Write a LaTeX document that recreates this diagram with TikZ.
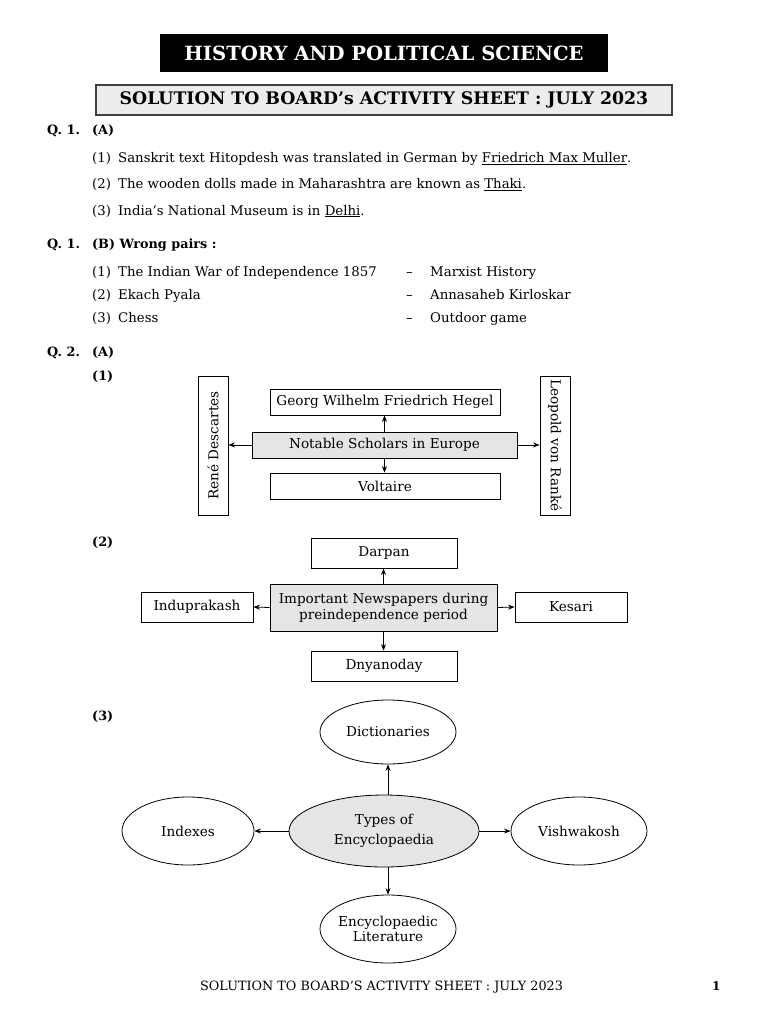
\documentclass[tikz,border=0pt]{standalone}
\usepackage{fontspec}
\setmainfont{DejaVu Serif}
\usetikzlibrary{shapes.geometric,arrows.meta}
\newcommand{\bfnt}{\fontsize{13.3}{15}\selectfont}
\newcommand{\dfnt}{\fontsize{13.6}{15.5}\selectfont}
\tikzset{
  txt/.style={anchor=base west, inner sep=0pt, font=\bfnt},
  qlab/.style={anchor=base west, inner sep=0pt, font=\fontsize{12.8}{15}\selectfont\bfseries},
  box/.style={draw, line width=0.8pt, inner sep=2pt, font=\dfnt, align=center},
  gbox/.style={box, fill=gray!20},
  oval/.style={ellipse, draw, line width=0.8pt, inner sep=0pt, font=\dfnt, align=center},
  arr/.style={line width=0.8pt, -{Stealth[length=6.5pt,width=5pt]}},
}
\begin{document}
\begin{tikzpicture}[x=1pt,y=-1pt]
\useasboundingbox (0,0) rectangle (768,1024);
\fill[white] (0,0) rectangle (768,1024);
% headings
\node[fill=black, minimum width=448, minimum height=38, inner sep=0pt, text=white, font=\fontsize{19.6}{21}\selectfont\bfseries] (h1) at (384,53) {HISTORY AND POLITICAL SCIENCE};
\node[fill=gray!15, draw=gray!50!black, line width=1.5pt, minimum width=576, minimum height=30, inner sep=0pt, font=\fontsize{17.3}{19}\selectfont\bfseries] (h2) at (384,100) {SOLUTION TO BOARD's ACTIVITY SHEET : JULY 2023};
% Q1 A
\node[qlab] (q1a) at (47,135) {\makebox[45pt][l]{Q. 1.}(A)};
\node[txt] (a1n) at (92,163) {(1)};
\node[txt] (a1) at (118,163) {Sanskrit text Hitopdesh was translated in German by \underline{Friedrich Max Muller}.};
\node[txt] (a2n) at (92,189) {(2)};
\node[txt] (a2) at (118,189) {The wooden dolls made in Maharashtra are known as \underline{Thaki}.};
\node[txt] (a3n) at (92,215) {(3)};
\node[txt] (a3) at (118,215) {India's National Museum is in \underline{Delhi}.};
% Q1 B
\node[qlab] (q1b) at (47,248) {\makebox[45pt][l]{Q. 1.}(B) Wrong pairs :};
\node[txt] (b1n) at (92,276) {(1)};
\node[txt] (b1) at (118,276) {The Indian War of Independence 1857};
\node[txt] (b1d) at (406,276) {--};
\node[txt] (b1r) at (430,276) {Marxist History};
\node[txt] (b2n) at (92,299) {(2)};
\node[txt] (b2) at (118,299) {Ekach Pyala};
\node[txt] (b2d) at (406,299) {--};
\node[txt] (b2r) at (430,299) {Annasaheb Kirloskar};
\node[txt] (b3n) at (92,322) {(3)};
\node[txt] (b3) at (118,322) {Chess};
\node[txt] (b3d) at (406,322) {--};
\node[txt] (b3r) at (430,322) {Outdoor game};
% Q2 A
\node[qlab] (q2a) at (47,356) {\makebox[45pt][l]{Q. 2.}(A)};
\node[qlab] (n1) at (92,380) {(1)};
\node[qlab] (n2) at (92,546) {(2)};
\node[qlab] (n3) at (92,720) {(3)};
% Diagram 1
\node[box, rotate=90, minimum width=139, minimum height=30] (desc) at (213,445.5) {René Descartes};
\node[box, rotate=-90, minimum width=139, minimum height=30] (ranke) at (555,445.5) {Leopold von Ranké};
\node[box, minimum width=230, minimum height=26] (hegel) at (385,402) {Georg Wilhelm Friedrich Hegel};
\node[gbox, minimum width=265, minimum height=26] (c1) at (384.5,445) {Notable Scholars in Europe};
\node[box, minimum width=230, minimum height=26] (volt) at (385,486) {Voltaire};
\draw[arr] (c1.north) -- (c1.north |- hegel.south);
\draw[arr] (c1.south) -- (c1.south |- volt.north);
\draw[arr] (c1.west) -- (c1.west -| desc.south);
\draw[arr] (c1.east) -- (c1.east -| ranke.south);
% Diagram 2
\node[box, minimum width=146, minimum height=30] (darpan) at (384,553) {Darpan};
\node[gbox, minimum width=227, minimum height=47] (c2) at (383.5,607.5) {Important Newspapers during\\preindependence period};
\node[box, minimum width=112, minimum height=30] (indu) at (197,607) {Induprakash};
\node[box, minimum width=112, minimum height=30] (kesari) at (571,607) {Kesari};
\node[box, minimum width=146, minimum height=30] (dnya) at (384,666) {Dnyanoday};
\draw[arr] (c2.north) -- (c2.north |- darpan.south);
\draw[arr] (c2.south) -- (c2.south |- dnya.north);
\draw[arr] (c2.west) -- (indu.east);
\draw[arr] (c2.east) -- (kesari.west);
% Diagram 3
\node[oval, minimum width=136, minimum height=64] (dict) at (388,732) {Dictionaries};
\node[oval, fill=gray!20, minimum width=190, minimum height=72] (c3) at (384,831) {Types of\\[4pt]Encyclopaedia};
\node[oval, minimum width=132, minimum height=68] (idx) at (188,831) {Indexes};
\node[oval, minimum width=136, minimum height=68] (vish) at (579,831) {Vishwakosh};
\node[oval, inner xsep=-12pt, inner ysep=-6pt, minimum width=136, minimum height=68] (enc) at (388,929) {Encyclopaedic\\Literature};
\draw[arr] (c3.north -| dict.south) -- (dict.south);
\draw[arr] (c3.south -| enc.north) -- (enc.north);
\draw[arr] (c3.west) -- (idx.east);
\draw[arr] (c3.east) -- (vish.west);
% footer
\node[anchor=base west, inner sep=0pt, font=\fontsize{12.8}{14}\selectfont] (foot) at (200,990) {SOLUTION TO BOARD'S ACTIVITY SHEET : JULY 2023};
\node[anchor=base west, inner sep=0pt, font=\fontsize{12}{13}\selectfont\bfseries] (pg) at (712,990) {1};
\end{tikzpicture}
\end{document}
